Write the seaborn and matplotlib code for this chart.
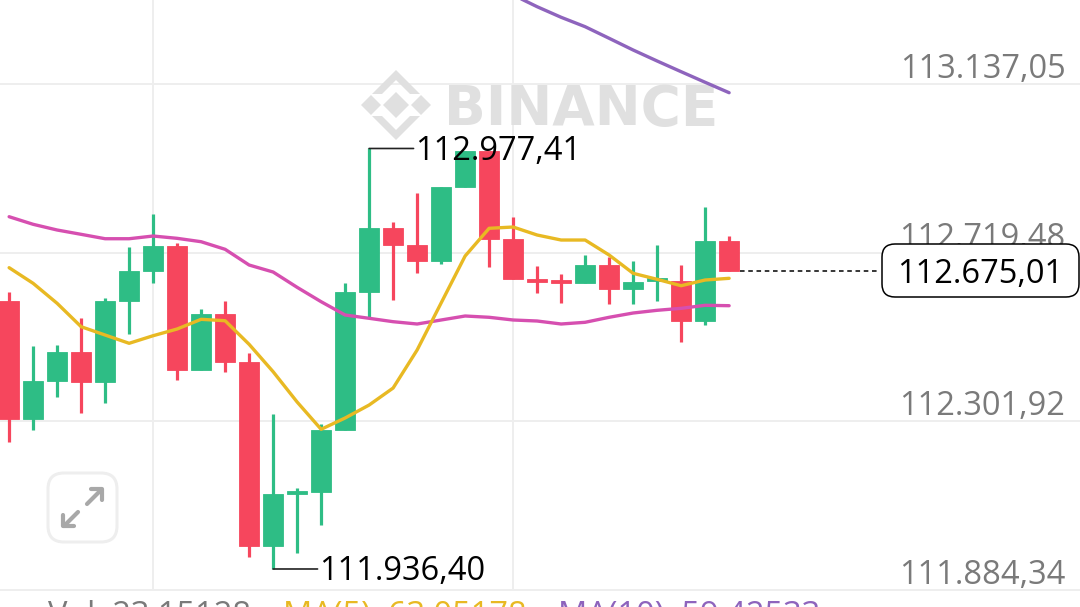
import numpy as np
import pandas as pd
import seaborn as sns
import matplotlib.pyplot as plt
from matplotlib.patches import Polygon, FancyBboxPatch
from matplotlib.transforms import Affine2D

# candles
opens = [112600.6, 112307.7, 112401.0, 112473.6, 112399.3, 112600.6, 112675.3, 112736.0, 112429.0, 112568.4, 112448.8,
         111993.3, 112122.7, 112127.7, 112280.4, 112621.4, 112781.3, 112739.2, 112700.1, 112881.3, 112970.4,
         112754.0, 112653.5, 112651.8, 112643.6, 112689.7, 112630.3, 112648.6, 112650.1, 112550.3, 112747.6]
closes = [112307.7, 112401.0, 112473.6, 112399.3, 112600.6, 112674.8, 112736.0, 112429.0, 112568.4, 112448.8, 111993.3,
          112122.7, 112130.2, 112280.4, 112621.4, 112781.3, 112739.2, 112699.6, 112881.3, 112970.4, 112754.0,
          112654.3, 112646.9, 112643.6, 112689.7, 112630.3, 112647.6, 112656.0, 112550.3, 112747.6, 112675.01]
highs = [112622.8, 112488.4, 112490.9, 112557.7, 112606.5, 112732.8, 112815.2, 112744.1, 112580.8, 112600.6, 112470.3,
         112319.3, 112136.9, 112295.3, 112645.1, 112977.41, 112795.4, 112866.4, 112881.3, 112970.4, 112970.4,
         112807.0, 112687.2, 112665.9, 112713.7, 112709.5, 112698.1, 112738.5, 112689.7, 112832.5, 112760.7]
lows = [112251.5, 112280.4, 112361.4, 112323.3, 112346.5, 112518.1, 112644.4, 112404.2, 112429.0, 112424.0, 111966.0,
        111936.4, 111975.9, 112044.5, 112280.4, 112559.5, 112602.3, 112668.4, 112690.7, 112881.3, 112684.7,
        112654.3, 112618.9, 112594.1, 112643.6, 112592.4, 112592.4, 112599.8, 112498.3, 112541.1, 112675.01]

ma_yellow = [112682.3, 112643.6, 112594.1, 112536.2, 112515.6, 112495.1, 112513.9, 112530.5, 112554.5, 112551.0, 112492.6,
             112424.8, 112349.8, 112282.2, 112310.2, 112342.3, 112384.4, 112478.5, 112594.9, 112711.2, 112779.8,
             112783.0, 112763.2, 112750.8, 112750.8, 112713.7, 112668.4, 112653.5, 112637.7, 112651.8, 112656.0]
ma_pink = [112808.5, 112789.7, 112775.6, 112764.9, 112754.0, 112754.0, 112760.7, 112755.0, 112746.6, 112727.8, 112688.9,
           112671.6, 112633.7, 112598.1, 112565.2, 112557.0, 112548.6, 112542.9, 112552.8, 112562.7, 112559.5,
           112552.8, 112550.3, 112542.9, 112547.1, 112559.5, 112570.1, 112576.8, 112581.7, 112589.2, 112588.2]
ma_purple_idx = [21, 22, 23, 24, 25, 26, 27, 28, 29, 30]
ma_purple = [113357.4, 113328.4, 113302.2, 113278.9, 113250.2, 113221.2, 113194.0, 113167.5, 113141.3, 113115.5]

grid_prices = [113137.05, 112719.48, 112301.92, 111884.34]
grid_labels = ['113.137,05', '112.719,48', '112.301,92', '111.884,34']
grid_candles = [6, 21]
last_label = '112.675,01'
high_label = '112.977,41'
low_label = '111.936,40'

GREEN = '#2ebd85'
RED = '#f6465d'
YELLOW = '#e8b923'
PINK = '#d64fb0'
PURPLE = '#8e64bd'
GREY = '#7a7a7a'
FONT = 'Open Sans'
FS = 23.5

sns.set_theme(style='white')
plt.rcParams['font.family'] = [FONT, 'DejaVu Sans']

df = pd.DataFrame({'i': range(len(opens)), 'open': opens, 'close': closes, 'high': highs, 'low': lows,
                   'ma5': ma_yellow, 'ma10': ma_pink})
df['color'] = np.where(df['close'] >= df['open'], GREEN, RED)

W, H = 1080, 607
fig = plt.figure(figsize=(10.8, 6.07), dpi=100)
ax = fig.add_axes([0, 0, 1, 1])
ax.set_xlim(-0.38, 44.62)
ax.set_ylim(111842.3, 113345.0)

# overlay in screen pixels, y going down
px = Affine2D().scale(1, -1).translate(0, H)

for p in grid_prices:
    ax.axhline(p, color='#eeeeee', lw=1.4, zorder=1)
for c in grid_candles:
    ax.axvline(c, ymin=(H - 590) / H, color='#eeeeee', lw=1.4, zorder=1)

# watermark, the logo is five pieces
wm = '#e0e0e0'
logo_parts = [
    [(396, 118), (383, 105), (396, 92), (409, 105)],
    [(361, 105), (371, 95), (381, 105), (371, 115)],
    [(411, 105), (421, 95), (431, 105), (421, 115)],
    [(396, 70), (420, 94), (410, 94), (396, 80), (382, 94), (372, 94)],
    [(396, 140), (420, 116), (410, 116), (396, 130), (382, 116), (372, 116)],
]
for pts in logo_parts:
    ax.add_patch(Polygon(pts, closed=True, transform=px, fc=wm, ec='none', zorder=2))
ax.text(444, 125, 'BINANCE', transform=px, color=wm, fontsize=39.5, fontweight='bold', family='DejaVu Sans',
        ha='left', va='baseline', zorder=2)

# wicks and bodies
ax.vlines(df['i'], df['low'], df['high'], colors=df['color'], lw=2.3, zorder=3)
ax.bar(df['i'], (df['close'] - df['open']).abs(), bottom=df[['open', 'close']].min(axis=1),
       width=0.86, color=df['color'], edgecolor=df['color'], lw=0.6, zorder=4)

sns.lineplot(data=df, x='i', y='ma5', color=YELLOW, lw=2.4, ax=ax, zorder=6)
sns.lineplot(data=df, x='i', y='ma10', color=PINK, lw=2.4, ax=ax, zorder=5)
sns.lineplot(x=ma_purple_idx, y=ma_purple, color=PURPLE, lw=2.4, ax=ax, zorder=5)
ax.axis('off')

# price scale text
for p, lab in zip(grid_prices, grid_labels):
    ax.annotate(lab, xy=(1, p), xycoords=ax.get_yaxis_transform(), xytext=(-10.5, 4.3), textcoords='offset points',
                ha='right', va='baseline', color=GREY, fontsize=FS, zorder=7)

# high / low marks
for i, val, lab in [(15, highs[15], high_label), (11, lows[11], low_label)]:
    ax.annotate('', xy=(i, val), xytext=(32, 0), textcoords='offset points', zorder=8,
                arrowprops=dict(arrowstyle='-', color='#222222', lw=1.2, shrinkA=0, shrinkB=0))
    ax.annotate(lab, xy=(i, val), xytext=(33, -8), textcoords='offset points', fontsize=FS,
                color='black', va='baseline', ha='left', zorder=8)

# last price line and box
ax.hlines(closes[30], 30.45, 36.3, colors='black', lw=1.1, linestyles=(0, (3, 2.4)), zorder=7)
ax.add_patch(FancyBboxPatch((882, 244), 197, 53, boxstyle='round,pad=0,rounding_size=13', transform=px,
                            fc='white', ec='black', lw=1.1, zorder=9))
ax.text(980, 283, last_label, transform=px, fontsize=FS, color='black', ha='center', va='baseline', zorder=10)

# expand button
ax.add_patch(FancyBboxPatch((48, 473), 69, 69, boxstyle='round,pad=0,rounding_size=16', transform=px,
                            fc='white', ec='#eeeeee', lw=2.2, zorder=3))
for a, b in [((87, 504), (101, 490)), ((78, 512), (64, 526))]:
    ax.plot([a[0], b[0]], [a[1], b[1]], transform=px, color='#a8a8a8', lw=3, solid_capstyle='round', zorder=4)
ax.plot([91, 102, 102], [489, 489, 500], transform=px, color='#a8a8a8', lw=3, zorder=4)
ax.plot([63, 63, 74], [515, 526, 526], transform=px, color='#a8a8a8', lw=3, zorder=4)

# legend line, cut by the bottom edge as in the reference
ax.text(48, 625, 'Vol: 23.15128', transform=px, fontsize=FS, color=GREY, va='baseline')
ax.text(283, 625, 'MA(5): 63.05178', transform=px, fontsize=FS, color=YELLOW, va='baseline')
ax.text(558, 625, 'MA(10): 59.42533', transform=px, fontsize=FS, color=PURPLE, va='baseline')

fig.savefig('out.png', dpi=100)
